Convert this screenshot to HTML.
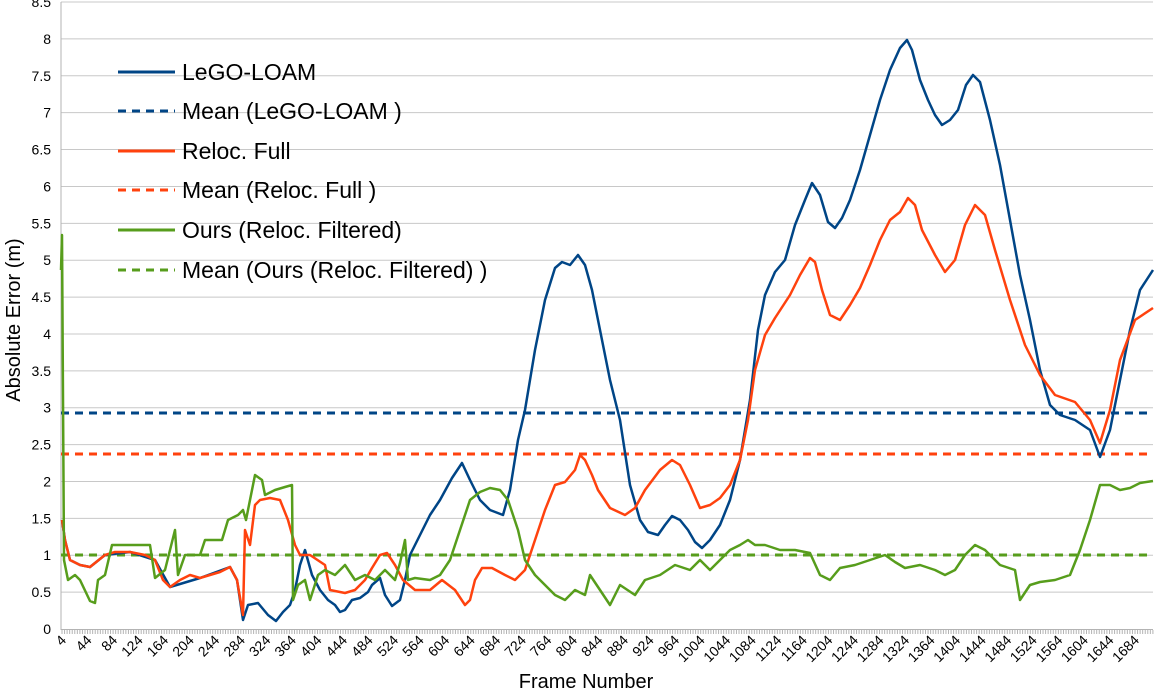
<!DOCTYPE html><html><head><style>body{margin:0;background:#fff}svg{font-family:"Liberation Sans",sans-serif}</style></head><body>
<svg width="1156" height="692" xmlns="http://www.w3.org/2000/svg">
<g id="grid" stroke="#c8c8c8" stroke-width="1"></g>
<g id="ylab" font-size="14" text-anchor="end" fill="#000"></g>
<g id="xlab" font-size="14" text-anchor="end" fill="#000"></g>
<line x1="61" y1="2" x2="61" y2="630" stroke="#b3b3b3"/>
<line x1="61" y1="629.5" x2="1153" y2="629.5" stroke="#b3b3b3"/>
<g id="ticks" stroke="#b3b3b3"></g>
<line x1="61" y1="413" x2="1153" y2="413" stroke="#004586" stroke-width="3" stroke-dasharray="8,6"/>
<line x1="61" y1="454" x2="1153" y2="454" stroke="#ff420e" stroke-width="3" stroke-dasharray="8,6"/>
<line x1="61" y1="555" x2="1153" y2="555" stroke="#579d1c" stroke-width="3" stroke-dasharray="8,6"/>
<polyline fill="none" stroke="#004586" stroke-width="2.5" stroke-linejoin="round" points="62,520 65,540 70,560 80,565 90,567 105,555 130,552 155,560 170,587 200,578 230,567 237,580 243,620 248,605 258,603 268,615 276,621 283,612 290,605 295,590 300,565 305,550 312,575 320,590 328,600 335,605 340,612 345,610 352,600 360,598 368,592 372,585 380,578 385,595 392,606 400,600 405,580 410,555 420,535 430,515 440,500 452,478 462,463 470,480 480,500 490,510 503,515 510,490 518,440 525,410 535,350 545,300 555,268 562,262 570,265 578,255 585,265 592,290 600,330 610,380 620,420 630,485 640,520 648,532 658,535 665,525 672,516 680,520 688,530 695,542 702,548 710,540 720,525 730,500 740,460 750,400 758,330 765,295 775,272 785,260 795,225 805,200 812,183 820,195 828,222 835,228 842,218 850,200 860,170 870,135 880,100 890,70 900,48 907,40 912,50 920,80 928,100 935,115 942,125 950,120 958,110 966,85 973,75 980,82 990,120 1000,165 1010,220 1020,275 1030,320 1040,370 1050,405 1060,415 1075,420 1090,430 1100,457 1110,430 1120,380 1130,330 1140,290 1153,270"/>
<polyline fill="none" stroke="#ff420e" stroke-width="2.5" stroke-linejoin="round" points="62,520 65,540 70,560 80,565 90,567 95,563 105,555 115,552 130,552 145,555 155,560 163,580 170,587 180,580 190,575 200,578 210,575 220,572 230,567 237,580 243,615 245,530 250,545 255,505 260,500 270,498 280,500 288,520 295,545 300,555 310,555 325,565 330,590 345,593 355,590 365,580 372,568 380,555 387,553 395,565 403,580 415,590 430,590 442,580 455,590 465,605 470,600 475,580 482,568 492,568 505,575 515,580 525,570 535,540 545,510 555,485 565,482 575,470 580,455 585,460 592,475 598,490 610,508 625,515 635,508 645,490 660,470 672,460 680,465 690,485 700,508 710,505 720,498 730,485 740,460 748,420 755,370 765,335 775,318 790,295 800,275 810,258 815,262 822,290 830,315 840,320 850,305 860,288 870,265 880,240 890,220 900,212 908,198 915,205 922,230 935,255 945,272 955,260 965,225 975,205 985,215 995,250 1010,300 1025,345 1040,375 1055,395 1075,402 1090,420 1100,443 1110,410 1120,360 1135,320 1153,308"/>
<polyline fill="none" stroke="#579d1c" stroke-width="2.5" stroke-linejoin="round" points="61,270 62,235 64,560 68,580 75,575 80,580 90,601 95,603 98,580 105,575 112,545 140,545 150,545 155,578 165,570 170,550 175,530 178,575 185,555 200,555 205,540 215,540 222,540 228,520 238,515 243,510 246,520 250,500 255,475 262,480 265,495 275,490 285,487 292,485 293,600 298,585 305,580 310,600 318,575 325,570 335,575 345,565 355,580 365,575 375,580 385,570 395,580 400,563 405,540 408,580 415,578 430,580 440,575 450,560 460,530 470,500 480,492 490,488 500,490 508,500 518,530 525,560 535,575 545,585 555,595 565,600 575,590 585,595 590,575 600,590 610,605 620,585 635,595 645,580 660,575 675,565 690,570 700,560 710,570 720,560 730,550 740,545 748,540 755,545 765,545 780,550 795,550 810,553 820,575 830,580 840,568 855,565 870,560 885,555 895,562 905,568 920,565 935,570 945,575 955,570 965,555 975,545 985,550 1000,565 1015,570 1020,600 1030,585 1040,582 1055,580 1070,575 1080,550 1090,520 1100,485 1110,485 1120,490 1130,488 1140,483 1153,481"/>
<g font-size="23" fill="#000">
<line x1="118" y1="72" x2="175" y2="72" stroke="#004586" stroke-width="3"/><text x="182" y="80">LeGO-LOAM</text>
<line x1="118" y1="111" x2="175" y2="111" stroke="#004586" stroke-width="3" stroke-dasharray="8,6"/><text x="182" y="119">Mean (LeGO-LOAM )</text>
<line x1="118" y1="151" x2="175" y2="151" stroke="#ff420e" stroke-width="3"/><text x="182" y="159">Reloc. Full</text>
<line x1="118" y1="190" x2="175" y2="190" stroke="#ff420e" stroke-width="3" stroke-dasharray="8,6"/><text x="182" y="198">Mean (Reloc. Full )</text>
<line x1="118" y1="230" x2="175" y2="230" stroke="#579d1c" stroke-width="3"/><text x="182" y="238">Ours (Reloc. Filtered)</text>
<line x1="118" y1="270" x2="175" y2="270" stroke="#579d1c" stroke-width="3" stroke-dasharray="8,6"/><text x="182" y="278">Mean (Ours (Reloc. Filtered) )</text>
</g>
<text x="586" y="688" font-size="20" text-anchor="middle">Frame Number</text>
<text transform="translate(20,320) rotate(-90)" font-size="20" text-anchor="middle">Absolute Error (m)</text>
<script>
var g=document.getElementById('grid'),yl=document.getElementById('ylab'),xl=document.getElementById('xlab'),tk=document.getElementById('ticks'),ns='http://www.w3.org/2000/svg';
for(var k=0;k<=17;k++){var y=629-k*36.88;if(k>0){var l=document.createElementNS(ns,'line');l.setAttribute('x1',61);l.setAttribute('x2',1153);l.setAttribute('y1',y);l.setAttribute('y2',y);g.appendChild(l);}
var t=document.createElementNS(ns,'text');t.setAttribute('x',51);t.setAttribute('y',y+5);t.textContent=(k/2).toString();yl.appendChild(t);}
for(var f=4;f<=1712;f+=4){var x=62+(f-4)*0.6387;var l=document.createElementNS(ns,'line');l.setAttribute('x1',x);l.setAttribute('x2',x);l.setAttribute('y1',630);l.setAttribute('y2',634);tk.appendChild(l);}
for(var f=4;f<=1684;f+=40){var x=62+(f-4)*0.6387;var t=document.createElementNS(ns,'text');t.setAttribute('transform','translate('+(x+5)+',641) rotate(-45)');t.textContent=f;xl.appendChild(t);}
</script>
</svg></body></html>
